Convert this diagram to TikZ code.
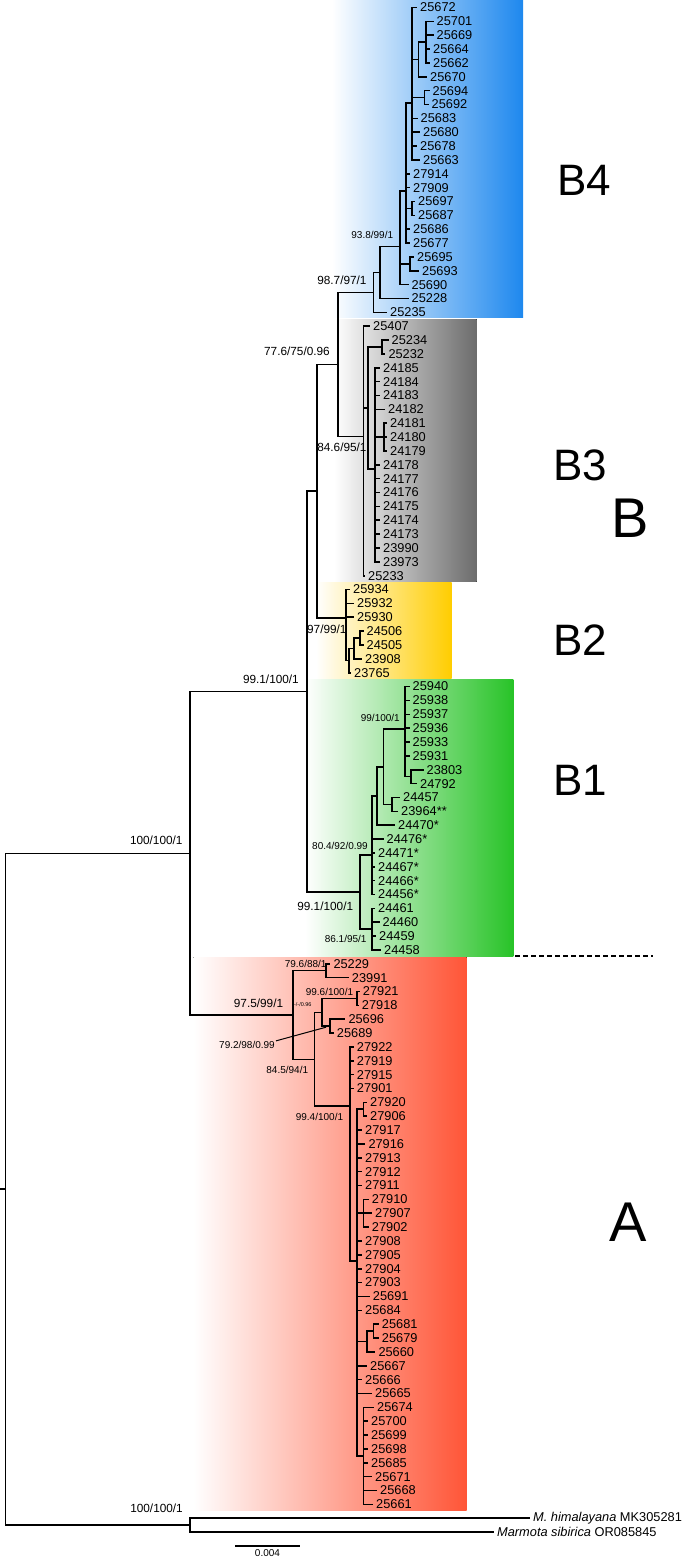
\documentclass[tikz,border=0pt]{standalone}
\usepackage{fontspec}
\setmainfont{Liberation Sans}
\definecolor{cBfour}{RGB}{30,136,238}
\definecolor{cBthree}{RGB}{108,108,108}
\definecolor{cBtwo}{RGB}{255,205,0}
\definecolor{cBone}{RGB}{40,195,40}
\definecolor{cA}{RGB}{255,85,55}

\begin{document}
\begin{tikzpicture}[x=1pt,y=-1pt,
    br/.style={line width=1.6pt},
    tip/.style={anchor=west,inner xsep=3pt,inner ysep=0pt,font=\fontsize{12.8}{14}\selectfont},
    supbig/.style={anchor=east,inner sep=0pt,font=\fontsize{11.8}{13}\selectfont},
    supsmall/.style={anchor=east,inner sep=0pt,font=\fontsize{10}{11}\selectfont},
    clade/.style={inner sep=0pt,font=\fontsize{44}{48}\selectfont},
    bigclade/.style={inner sep=0pt,font=\fontsize{56}{60}\selectfont}]
            \useasboundingbox (0,0) rectangle (685,1559);
            \fill[white] (0,0) rectangle (685,1559);

            % clade boxes
            \fill[left color=white, right color=cBfour] (332,0) rectangle (523,317);
            \fill[left color=white, right color=cBthree] (334,319) rectangle (476.7,581.7);
            \fill[left color=white, right color=cBtwo] (316,582.7) rectangle (451.7,678.3);
            \fill[left color=white, right color=cBone] (305,679.3) rectangle (513.3,956);
            \fill[left color=white, right color=cA] (193.3,957) rectangle (466.7,1510);

            % tips B4
            \node[tip] (t25672) at (417,7.4) {25672};
            \node[tip] (t25701) at (433.5,21.3) {25701};
            \node[tip] (t25669) at (433.5,35.1) {25669};
            \node[tip] (t25664) at (430,49.0) {25664};
            \node[tip] (t25662) at (430,62.8) {25662};
            \node[tip] (t25670) at (427,76.7) {25670};
            \node[tip] (t25694) at (429.5,90.6) {25694};
            \node[tip] (t25692) at (428.5,104.4) {25692};
            \node[tip] (t25683) at (417.5,118.3) {25683};
            \node[tip] (t25680) at (420,132.1) {25680};
            \node[tip] (t25678) at (417,146.0) {25678};
            \node[tip] (t25663) at (420,159.9) {25663};
            \node[tip] (t27914) at (410,173.7) {27914};
            \node[tip] (t27909) at (410,187.6) {27909};
            \node[tip] (t25697) at (415,201.4) {25697};
            \node[tip] (t25687) at (415,215.3) {25687};
            \node[tip] (t25686) at (410,229.2) {25686};
            \node[tip] (t25677) at (410,243.0) {25677};
            \node[tip] (t25695) at (414,256.9) {25695};
            \node[tip] (t25693) at (419,270.7) {25693};
            \node[tip] (t25690) at (408.5,284.6) {25690};
            \node[tip] (t25228) at (408.5,298.5) {25228};
            \node[tip] (t25235) at (387,312.3) {25235};

            % tips B3
            \node[tip] (t25407) at (370,326.2) {25407};
            \node[tip] (t25234) at (388.5,340.0) {25234};
            \node[tip] (t25232) at (385.3,353.9) {25232};
            \node[tip] (t24185) at (380,367.8) {24185};
            \node[tip] (t24184) at (380,381.6) {24184};
            \node[tip] (t24183) at (380,395.5) {24183};
            \node[tip] (t24182) at (385,409.3) {24182};
            \node[tip] (t24181) at (387,423.2) {24181};
            \node[tip] (t24180) at (387,437.1) {24180};
            \node[tip] (t24179) at (387,450.9) {24179};
            \node[tip] (t24178) at (380,464.8) {24178};
            \node[tip] (t24177) at (380,478.6) {24177};
            \node[tip] (t24176) at (380,492.5) {24176};
            \node[tip] (t24175) at (380,506.4) {24175};
            \node[tip] (t24174) at (380,520.2) {24174};
            \node[tip] (t24173) at (380,534.1) {24173};
            \node[tip] (t23990) at (380,547.9) {23990};
            \node[tip] (t23973) at (380,561.8) {23973};
            \node[tip] (t25233) at (365,575.7) {25233};

            % tips B2
            \node[tip] (t25934) at (350,589.5) {25934};
            \node[tip] (t25932) at (354,603.4) {25932};
            \node[tip] (t25930) at (354,617.2) {25930};
            \node[tip] (t24506) at (363.5,631.1) {24506};
            \node[tip] (t24505) at (363.5,645.0) {24505};
            \node[tip] (t23908) at (362,658.8) {23908};
            \node[tip] (t23765) at (351,672.7) {23765};

            % tips B1
            \node[tip] (t25940) at (409.5,686.5) {25940};
            \node[tip] (t25938) at (409.5,700.4) {25938};
            \node[tip] (t25937) at (409.5,714.3) {25937};
            \node[tip] (t25936) at (409.5,728.1) {25936};
            \node[tip] (t25933) at (409.5,742.0) {25933};
            \node[tip] (t25931) at (409.5,755.8) {25931};
            \node[tip] (t23803) at (423.5,769.7) {23803};
            \node[tip] (t24792) at (417,783.6) {24792};
            \node[tip] (t24457) at (400,797.4) {24457};
            \node[tip] (t23964) at (398,811.3) {23964**};
            \node[tip] (t24470) at (395,825.1) {24470*};
            \node[tip] (t24476) at (383.5,839.0) {24476*};
            \node[tip] (t24471) at (375,852.9) {24471*};
            \node[tip] (t24467) at (375,866.7) {24467*};
            \node[tip] (t24466) at (375,880.6) {24466*};
            \node[tip] (t24456) at (375,894.4) {24456*};
            \node[tip] (t24461) at (375,908.3) {24461};
            \node[tip] (t24460) at (379.5,922.2) {24460};
            \node[tip] (t24459) at (376,936.0) {24459};
            \node[tip] (t24458) at (381,949.9) {24458};

            % tips A
            \node[tip] (t25229) at (330.3,963.7) {25229};
            \node[tip] (t23991) at (348.7,977.6) {23991};
            \node[tip] (t27921) at (359.7,991.5) {27921};
            \node[tip] (t27918) at (358.7,1005.3) {27918};
            \node[tip] (t25696) at (345.3,1019.2) {25696};
            \node[tip] (t25689) at (333.7,1033.0) {25689};
            \node[tip] (t27922) at (353.7,1046.9) {27922};
            \node[tip] (t27919) at (353.7,1060.8) {27919};
            \node[tip] (t27915) at (353.7,1074.6) {27915};
            \node[tip] (t27901) at (353.7,1088.5) {27901};
            \node[tip] (t27920) at (367,1102.3) {27920};
            \node[tip] (t27906) at (367,1116.2) {27906};
            \node[tip] (t27917) at (362,1130.1) {27917};
            \node[tip] (t27916) at (365.3,1143.9) {27916};
            \node[tip] (t27913) at (362,1157.8) {27913};
            \node[tip] (t27912) at (362,1171.6) {27912};
            \node[tip] (t27911) at (362,1185.5) {27911};
            \node[tip] (t27910) at (368.7,1199.4) {27910};
            \node[tip] (t27907) at (372,1213.2) {27907};
            \node[tip] (t27902) at (368.7,1227.1) {27902};
            \node[tip] (t27908) at (362,1241.0) {27908};
            \node[tip] (t27905) at (362,1254.8) {27905};
            \node[tip] (t27904) at (362,1268.7) {27904};
            \node[tip] (t27903) at (362,1282.5) {27903};
            \node[tip] (t25691) at (369.7,1296.4) {25691};
            \node[tip] (t25684) at (362,1310.3) {25684};
            \node[tip] (t25681) at (378.7,1324.1) {25681};
            \node[tip] (t25679) at (378.7,1338.0) {25679};
            \node[tip] (t25660) at (375.3,1351.8) {25660};
            \node[tip] (t25667) at (367,1365.7) {25667};
            \node[tip] (t25666) at (362,1379.6) {25666};
            \node[tip] (t25665) at (372,1393.4) {25665};
            \node[tip] (t25674) at (374,1407.3) {25674};
            \node[tip] (t25700) at (368,1421.1) {25700};
            \node[tip] (t25699) at (368,1435.0) {25699};
            \node[tip] (t25698) at (368,1448.9) {25698};
            \node[tip] (t25685) at (368,1462.7) {25685};
            \node[tip] (t25671) at (372,1476.6) {25671};
            \node[tip] (t25668) at (377,1490.4) {25668};
            \node[tip] (t25661) at (373,1504.3) {25661};

            % outgroups
            \node[tip] (tMhim) at (530,1518.2) {\textit{M. himalayana} MK305281};
            \node[tip] (tMsib) at (494,1532.0) {\textit{Marmota sibirica} OR085845};

            % internal nodes
            \coordinate (nb4g) at (426,42.0);
            \coordinate (nb4h) at (418.3,59.4);
            \coordinate (nb4i) at (424.3,97.5);
            \coordinate (nb4e) at (411.7,102.9);
            \coordinate (nb4j) at (411.7,208.4);
            \coordinate (nb4d) at (405.7,190.8);
            \coordinate (nb4f) at (410,263.8);
            \coordinate (nb4c) at (400,246.4);
            \coordinate (nb4b) at (380,272.5);
            \coordinate (nb4a) at (373.3,292.4);
            \coordinate (nb3b) at (381.7,347.0);
            \coordinate (nb3d) at (383.7,437.1);
            \coordinate (nb3c) at (375,469.1);
            \coordinate (nb3a) at (367.7,408.0);
            \coordinate (nB3) at (363.3,436.6);
            \coordinate (nB34) at (337.7,364.5);
            \coordinate (nb2b) at (360,638.0);
            \coordinate (nb2a) at (354,648.4);
            \coordinate (nb2x) at (349,660.6);
            \coordinate (nB2) at (346,617.7);
            \coordinate (nB234) at (316.7,491.1);
            \coordinate (nb1h) at (411,776.6);
            \coordinate (nb1e) at (405,729.1);
            \coordinate (nb1f) at (391.7,804.3);
            \coordinate (nb1d) at (383.3,766.7);
            \coordinate (nb1c) at (376.7,795.9);
            \coordinate (nb1b) at (371.7,854.9);
            \coordinate (nb1g) at (371.7,929.1);
            \coordinate (nB1) at (360,892.0);
            \coordinate (nB) at (306.7,691.6);
            \coordinate (nA1) at (326,970.6);
            \coordinate (nA3a) at (356.7,998.4);
            \coordinate (nA3b) at (330,1026.1);
            \coordinate (nA3) at (321.7,1012.3);
            \coordinate (nA5a) at (363.3,1109.2);
            \coordinate (nA5b) at (363.3,1213.2);
            \coordinate (nA5d) at (373.3,1331.0);
            \coordinate (nA5c) at (366.7,1341.4);
            \coordinate (nA5e) at (363.5,1455.7);
            \coordinate (nA5) at (357,1261.1);
            \coordinate (nA4) at (350,1106.2);
            \coordinate (nA2) at (314.3,1059.3);
            \coordinate (nA) at (292.7,1015.0);
            \coordinate (nAB) at (190,853.3);
            \coordinate (nOut) at (190,1525.1);
            \coordinate (root) at (5.5,1189.2);
            \coordinate (rstem) at (0,1189.2);

            % branches B4
            \draw[br] (nb4g) |- (t25701);
            \draw[br] (nb4g) |- (t25669);
            \draw[br] (nb4g) |- (t25664);
            \draw[br] (nb4g) |- (t25662);
            \draw[br] (nb4h) |- (nb4g);
            \draw[br] (nb4h) |- (t25670);
            \draw[br] (nb4i) |- (t25694);
            \draw[br] (nb4i) |- (t25692);
            \draw[br] (nb4e) |- (t25672);
            \draw[br] (nb4e) |- (nb4h);
            \draw[br] (nb4e) |- (nb4i);
            \draw[br] (nb4e) |- (t25683);
            \draw[br] (nb4e) |- (t25680);
            \draw[br] (nb4e) |- (t25678);
            \draw[br] (nb4e) |- (t25663);
            \draw[br] (nb4j) |- (t25697);
            \draw[br] (nb4j) |- (t25687);
            \draw[br] (nb4d) |- (nb4e);
            \draw[br] (nb4d) |- (t27914);
            \draw[br] (nb4d) |- (t27909);
            \draw[br] (nb4d) |- (nb4j);
            \draw[br] (nb4d) |- (t25686);
            \draw[br] (nb4d) |- (t25677);
            \draw[br] (nb4f) |- (t25695);
            \draw[br] (nb4f) |- (t25693);
            \draw[br] (nb4c) |- (nb4d);
            \draw[br] (nb4c) |- (nb4f);
            \draw[br] (nb4c) |- (t25690);
            \draw[br] (nb4b) |- (nb4c);
            \draw[br] (nb4b) |- (t25228);
            \draw[br] (nb4a) |- (nb4b);
            \draw[br] (nb4a) |- (t25235);

            % branches B3
            \draw[br] (nb3b) |- (t25234);
            \draw[br] (nb3b) |- (t25232);
            \draw[br] (nb3d) |- (t24181);
            \draw[br] (nb3d) |- (t24180);
            \draw[br] (nb3d) |- (t24179);
            \draw[br] (nb3c) |- (t24185);
            \draw[br] (nb3c) |- (t24184);
            \draw[br] (nb3c) |- (t24183);
            \draw[br] (nb3c) |- (t24182);
            \draw[br] (nb3c) |- (nb3d);
            \draw[br] (nb3c) |- (t24178);
            \draw[br] (nb3c) |- (t24177);
            \draw[br] (nb3c) |- (t24176);
            \draw[br] (nb3c) |- (t24175);
            \draw[br] (nb3c) |- (t24174);
            \draw[br] (nb3c) |- (t24173);
            \draw[br] (nb3c) |- (t23990);
            \draw[br] (nb3c) |- (t23973);
            \draw[br] (nb3a) |- (nb3b);
            \draw[br] (nb3a) |- (nb3c);
            \draw[br] (nB3) |- (t25407);
            \draw[br] (nB3) |- (nb3a);
            \draw[br] (nB3) |- (t25233);
            \draw[br] (nB34) |- (nb4a);
            \draw[br] (nB34) |- (nB3);

            % branches B2
            \draw[br] (nb2b) |- (t24506);
            \draw[br] (nb2b) |- (t24505);
            \draw[br] (nb2a) |- (nb2b);
            \draw[br] (nb2a) |- (t23908);
            \draw[br] (nb2x) |- (nb2a);
            \draw[br] (nb2x) |- (t23765);
            \draw[br] (nB2) |- (t25934);
            \draw[br] (nB2) |- (t25932);
            \draw[br] (nB2) |- (t25930);
            \draw[br] (nB2) |- (nb2x);
            \draw[br] (nB234) |- (nB34);
            \draw[br] (nB234) |- (nB2);

            % branches B1
            \draw[br] (nb1h) |- (t23803);
            \draw[br] (nb1h) |- (t24792);
            \draw[br] (nb1e) |- (t25940);
            \draw[br] (nb1e) |- (t25938);
            \draw[br] (nb1e) |- (t25937);
            \draw[br] (nb1e) |- (t25936);
            \draw[br] (nb1e) |- (t25933);
            \draw[br] (nb1e) |- (t25931);
            \draw[br] (nb1e) |- (nb1h);
            \draw[br] (nb1f) |- (t24457);
            \draw[br] (nb1f) |- (t23964);
            \draw[br] (nb1d) |- (nb1e);
            \draw[br] (nb1d) |- (nb1f);
            \draw[br] (nb1c) |- (nb1d);
            \draw[br] (nb1c) |- (t24470);
            \draw[br] (nb1b) |- (nb1c);
            \draw[br] (nb1b) |- (t24476);
            \draw[br] (nb1b) |- (t24471);
            \draw[br] (nb1b) |- (t24467);
            \draw[br] (nb1b) |- (t24466);
            \draw[br] (nb1b) |- (t24456);
            \draw[br] (nb1g) |- (t24461);
            \draw[br] (nb1g) |- (t24460);
            \draw[br] (nb1g) |- (t24459);
            \draw[br] (nb1g) |- (t24458);
            \draw[br] (nB1) |- (nb1b);
            \draw[br] (nB1) |- (nb1g);
            \draw[br] (nB) |- (nB234);
            \draw[br] (nB) |- (nB1);

            % branches A
            \draw[br] (nA1) |- (t25229);
            \draw[br] (nA1) |- (t23991);
            \draw[br] (nA3a) |- (t27921);
            \draw[br] (nA3a) |- (t27918);
            \draw[br] (nA3b) |- (t25696);
            \draw[br] (nA3b) |- (t25689);
            \draw[br] (nA3) |- (nA3a);
            \draw[br] (nA3) |- (nA3b);
            \draw[br] (nA5a) |- (t27920);
            \draw[br] (nA5a) |- (t27906);
            \draw[br] (nA5b) |- (t27910);
            \draw[br] (nA5b) |- (t27907);
            \draw[br] (nA5b) |- (t27902);
            \draw[br] (nA5d) |- (t25681);
            \draw[br] (nA5d) |- (t25679);
            \draw[br] (nA5c) |- (nA5d);
            \draw[br] (nA5c) |- (t25660);
            \draw[br] (nA5e) |- (t25674);
            \draw[br] (nA5e) |- (t25700);
            \draw[br] (nA5e) |- (t25699);
            \draw[br] (nA5e) |- (t25698);
            \draw[br] (nA5e) |- (t25685);
            \draw[br] (nA5e) |- (t25671);
            \draw[br] (nA5e) |- (t25668);
            \draw[br] (nA5e) |- (t25661);
            \draw[br] (nA5) |- (nA5a);
            \draw[br] (nA5) |- (t27917);
            \draw[br] (nA5) |- (t27916);
            \draw[br] (nA5) |- (t27913);
            \draw[br] (nA5) |- (t27912);
            \draw[br] (nA5) |- (t27911);
            \draw[br] (nA5) |- (nA5b);
            \draw[br] (nA5) |- (t27908);
            \draw[br] (nA5) |- (t27905);
            \draw[br] (nA5) |- (t27904);
            \draw[br] (nA5) |- (t27903);
            \draw[br] (nA5) |- (t25691);
            \draw[br] (nA5) |- (t25684);
            \draw[br] (nA5) |- (nA5c);
            \draw[br] (nA5) |- (t25667);
            \draw[br] (nA5) |- (t25666);
            \draw[br] (nA5) |- (t25665);
            \draw[br] (nA5) |- (nA5e);
            \draw[br] (nA4) |- (t27922);
            \draw[br] (nA4) |- (t27919);
            \draw[br] (nA4) |- (t27915);
            \draw[br] (nA4) |- (t27901);
            \draw[br] (nA4) |- (nA5);
            \draw[br] (nA2) |- (nA3);
            \draw[br] (nA2) |- (nA4);
            \draw[br] (nA) |- (nA1);
            \draw[br] (nA) |- (nA2);

            % deep branches
            \draw[br] (nAB) |- (nB);
            \draw[br] (nAB) |- (nA);
            \draw[br] (nOut) |- (tMhim);
            \draw[br] (nOut) |- (tMsib);
            \draw[br] (root) |- (nAB);
            \draw[br] (root) |- (nOut);
            \draw[br] (rstem) -- (root);

            % support values
            \node[supbig] (s1) at (182.7,840) {100/100/1};
            \node[supbig] (s2) at (299,679) {99.1/100/1};
            \node[supbig] (s3) at (330,351) {77.6/75/0.96};
            \node[supbig] (s4) at (366.7,280) {98.7/97/1};
            \node[supsmall] (s5) at (393.3,235) {93.8/99/1};
            \node[supbig] (s6) at (366.7,447) {84.6/95/1};
            \node[supbig] (s7) at (346.7,629) {97/99/1};
            \node[supsmall] (s8) at (400,718.3) {99/100/1};
            \node[supsmall] (s9) at (368,846) {80.4/92/0.99};
            \node[supbig] (s10) at (353.3,906.7) {99.1/100/1};
            \node[supsmall] (s11) at (366.7,939.3) {86.1/95/1};
            \node[supsmall] (s12) at (326.7,964) {79.6/88/1};
            \node[supbig] (s13) at (283.3,1003.3) {97.5/99/1};
            \node[supsmall] (s14) at (353.3,991.7) {99.6/100/1};
            \node[supsmall,font=\fontsize{5.5}{6}\selectfont] (s15) at (311.7,1005) {-/-/0.96};
            \node[supsmall] (s16) at (275,1045) {79.2/98/0.99};
            \node[supsmall] (s17) at (308.3,1070) {84.5/94/1};
            \node[supsmall] (s18) at (343.3,1116.7) {99.4/100/1};
            \node[supbig] (s19) at (183,1508) {100/100/1};
            \draw[line width=1pt, shorten <=1pt, shorten >=4pt] (s16.north east) -- (nA3b);

            % clade names
            \node[clade] (cB4) at (584,180) {B4};
            \node[clade] (cB3) at (580,465) {B3};
            \node[bigclade] (cB) at (630,518) {B};
            \node[clade] (cB2) at (580,640) {B2};
            \node[clade] (cB1) at (580,780) {B1};
            \node[bigclade] (cA) at (628,1222) {A};

            % split line
            \coordinate (dl1) at (515,956);
            \coordinate (dl2) at (653,956);
            \draw[line width=1.6pt, dash pattern=on 5pt off 3pt] (dl1) -- (dl2);

            % scale bar
            \coordinate (sb1) at (235,1546);
            \coordinate (sb2) at (300,1546);
            \draw[line width=1.2pt] (sb1) -- (sb2);
            \node[inner sep=0pt,font=\fontsize{10}{11}\selectfont] (sbl) at (267.5,1553.5) {0.004};
        \end{tikzpicture}
\end{document}
